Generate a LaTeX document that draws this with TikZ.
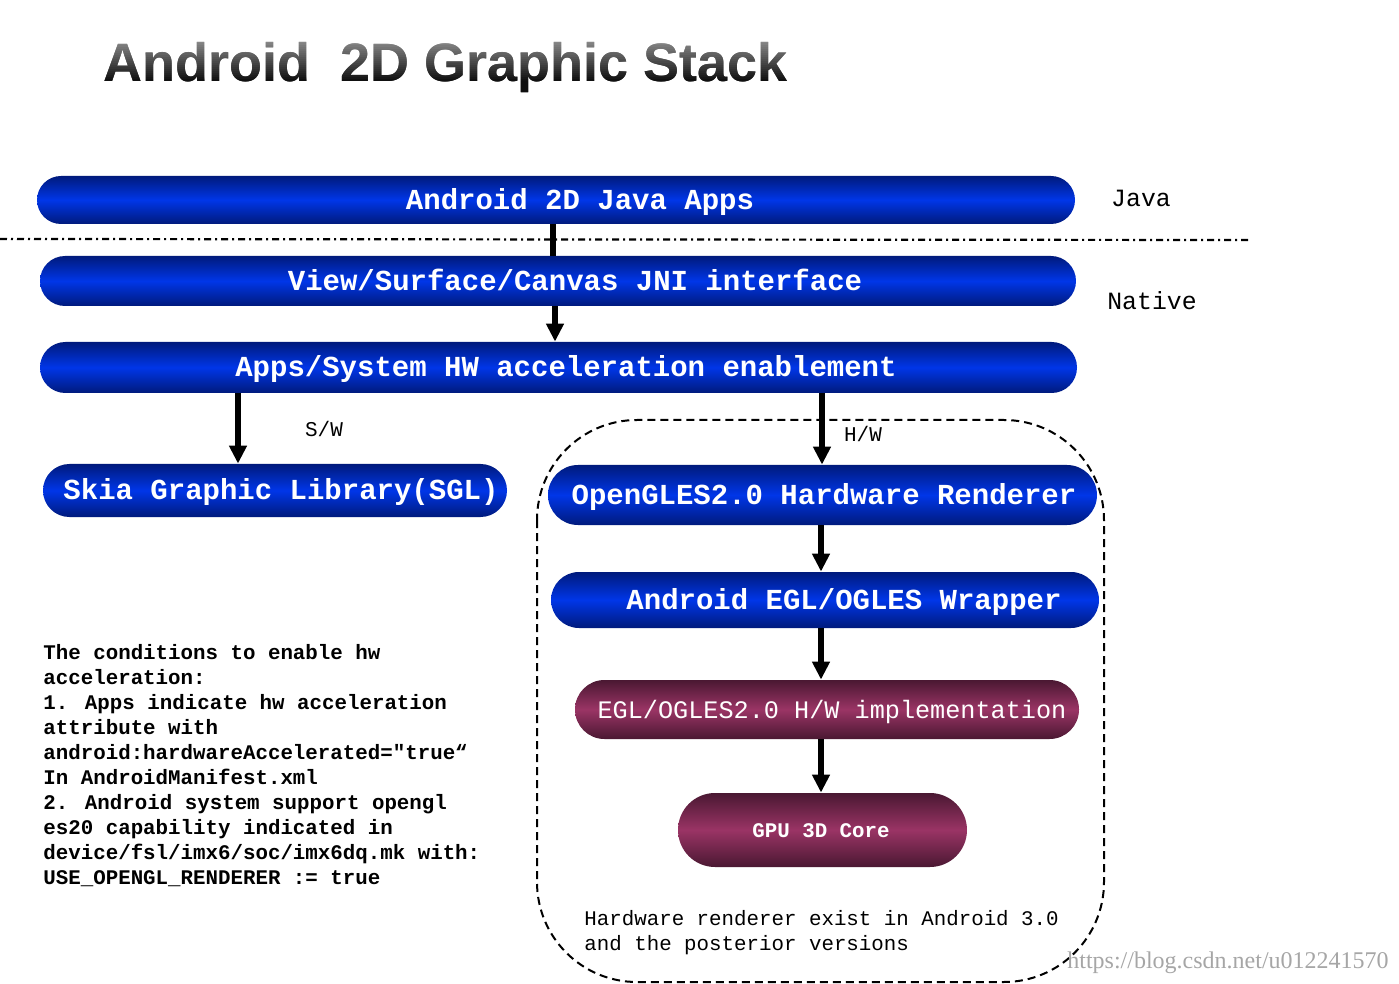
\documentclass[tikz,border=0pt]{standalone}
\usepackage{fontspec}
\setmainfont{Liberation Sans}
\newfontfamily\monof{Liberation Mono}
\newfontfamily\seriff{Liberation Serif}
\usetikzlibrary{arrows.meta,calc}
\definecolor{bdark}{HTML}{001A7C}
\definecolor{blight}{HTML}{0036E8}
\definecolor{pdark}{HTML}{4A1832}
\definecolor{plight}{HTML}{9A3465}
\definecolor{titletop}{HTML}{8A8A8A}
\definecolor{titlebot}{HTML}{0E0E0E}
\tikzset{
  titlefont/.style={font=\bfseries\fontsize{27}{30}\selectfont, inner sep=0pt, anchor=base west},
  bluebar/.style={rectangle, draw=none, inner sep=0pt, top color=bdark, bottom color=bdark, middle color=blight},
  purplebar/.style={rectangle, draw=none, inner sep=0pt, top color=pdark, bottom color=pdark, middle color=plight},
  bartext/.style={font=\monof\bfseries\fontsize{14.5}{17}\selectfont, text=white, inner sep=0pt, anchor=base},
  labeltext/.style={font=\monof\fontsize{12.4}{14}\selectfont, text=black, inner sep=0pt, anchor=base},
  smalltext/.style={font=\monof\fontsize{10.5}{12.5}\selectfont, text=black, inner sep=0pt, anchor=base},
  notetext/.style={font=\monof\bfseries\fontsize{10.4}{12.5}\selectfont, text=black, inner sep=0pt, align=left, anchor=north west},
  conn/.style={line width=3pt, -{Triangle[width=8.5pt,length=9pt]}},
  plainconn/.style={line width=3pt},
  dbox/.style={line width=1pt, dash pattern=on 4pt off 2.5pt, rounded corners=50pt},
  dashdot/.style={line width=1.1pt, dash pattern=on 3.5pt off 2pt on 1pt off 2pt}
}
\begin{document}
\begin{tikzpicture}[x=0.5pt,y=-0.5pt]
\useasboundingbox (0,0) rectangle (1399,984);
% title (stepped vertical gradient)
\foreach \i in {0,...,29} {
  \pgfmathsetmacro\ya{36+2*\i}
  \pgfmathsetmacro\pct{min(100,max(0,(\ya+1-42)/40*100))}
  \begin{scope}
    \clip (90,\ya) rectangle (800,\ya+2.1);
    \node[titlefont, text=titlebot!\pct!titletop] (title\i) at (103,82) {Android\ \ 2D Graphic Stack};
  \end{scope}
}
% separator
\draw[dashdot] (0,239) -- (1250,240);
% dashed box
\draw[dbox] (537,420) rectangle (1104,982);
% bars
\node[bluebar, minimum width=519pt, minimum height=24pt, rounded corners=12pt] (java) at (556,200) {};
\node[bluebar, minimum width=518pt, minimum height=25pt, rounded corners=12.5pt] (jni) at (558,281) {};
\node[bluebar, minimum width=518.5pt, minimum height=25.5pt, rounded corners=12.7pt] (hw) at (558.5,367.5) {};
\node[bluebar, minimum width=232pt, minimum height=26.5pt, rounded corners=13.2pt] (skia) at (275,490.5) {};
\node[bluebar, minimum width=274.5pt, minimum height=30pt, rounded corners=15pt] (gles) at (822.5,495) {};
\node[bluebar, minimum width=274pt, minimum height=28pt, rounded corners=14pt] (wrap) at (825,600) {};
\node[purplebar, minimum width=252pt, minimum height=29.5pt, rounded corners=14.7pt] (impl) at (827,709.5) {};
\node[purplebar, minimum width=144.5pt, minimum height=37pt, rounded corners=18.5pt] (gpu) at (822.5,830) {};
% bar texts
\node[bartext] (javaT) at (580,209.5) {Android 2D Java Apps};
\node[bartext] (jniT) at (575,290.5) {View/Surface/Canvas JNI interface};
\node[bartext] (hwT) at (566,377) {Apps/System HW acceleration enablement};
\node[bartext] (skiaT) at (281,500) {Skia Graphic Library(SGL)};
\node[bartext] (glesT) at (824,504.5) {OpenGLES2.0 Hardware Renderer};
\node[bartext] (wrapT) at (844,609.5) {Android EGL/OGLES Wrapper};
\node[bartext, font=\monof\fontsize{12.6}{15}\selectfont] (implT) at (832,718) {EGL/OGLES2.0 H/W implementation};
\node[bartext, font=\monof\bfseries\fontsize{10.4}{12.5}\selectfont] (gpuT) at (821,837) {GPU 3D Core};
% side labels
\node[labeltext] (javaL) at (1141,207) {Java};
\node[labeltext] (nativeL) at (1152,310) {Native};
\node[smalltext] (swL) at (324,437) {S/W};
\node[smalltext] (hwL) at (863,442) {H/W};
% notes
\node[notetext] (note) at (43,644) {The conditions to enable hw\\acceleration:\\1. Apps indicate hw acceleration\\attribute with\\android:hardwareAccelerated="true“\\In AndroidManifest.xml\\2. Android system support opengl\\es20 capability indicated in\\device/fsl/imx6/soc/imx6dq.mk with:\\USE\_OPENGL\_RENDERER := true};
\node[notetext, font=\monof\fontsize{10.4}{12.5}\selectfont] (hwnote) at (584,910) {Hardware renderer exist in Android 3.0\\and the posterior versions};
\node[font=\seriff\fontsize{12}{14}\selectfont, text=black!35, inner sep=0pt] (wm) at (1228,963) {https://blog.csdn.net/u012241570};
% connectors
\coordinate (a1) at (553,0);
\coordinate (a2) at (555,0);
\coordinate (a3) at (238,0);
\coordinate (a4) at (822,0);
\coordinate (a5) at (821,0);
\draw[plainconn] (java.south -| a1) -- (jni.north -| a1);
\draw[conn] (jni.south -| a2) -- (hw.north -| a2);
\draw[conn] (hw.south -| a3) -- (skia.north -| a3);
\draw[conn] (hw.south -| a4) -- (gles.north -| a4);
\draw[conn] (gles.south -| a5) -- (wrap.north -| a5);
\draw[conn] (wrap.south -| a5) -- (impl.north -| a5);
\draw[conn] (impl.south -| a5) -- (gpu.north -| a5);
\end{tikzpicture}
\end{document}
